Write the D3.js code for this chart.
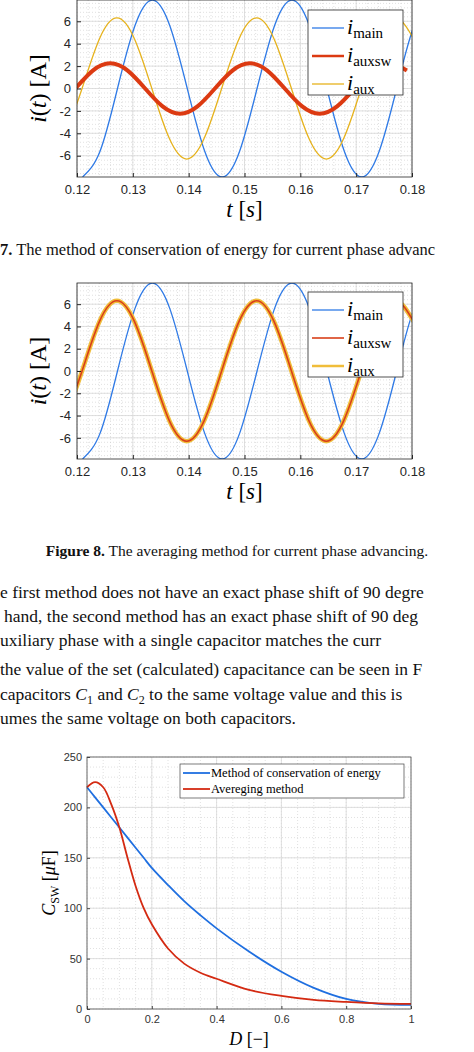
<!DOCTYPE html>
<html><head><meta charset="utf-8">
<script src="https://cdn.jsdelivr.net/npm/d3@7"></script>
<style>body{margin:0;background:#fff}svg{display:block}</style>
</head><body><svg id="s" width="474" height="1052"></svg>
<script>
// ---- data ----
const step = 0.003125;
const mainVals = [-7.9,-5.6,0,5.6,7.9,5.6,0,-5.6,-7.9,-5.6,0,5.6,7.9,5.6,0,-5.6,-7.9,-5.6,0,5.6,7.9];
const mainStart = 0.1210;
const auxVals = [-4.45,0,4.45,6.3,4.45,0,-4.45,-6.3,-4.45,0,4.45,6.3,4.45,0,-4.45,-6.3,-4.45,0,4.45,6.3,4.45];
const auxStart = 0.11778;
const auxswVals1 = [-1.6,0,1.6,2.25,1.6,0,-1.6,-2.25,-1.6,0,1.6,2.25,1.6,0,-1.6,-2.25,-1.6,0,1.6,2.25,1.6];
const auxswStart1 = 0.11658;
const auxswVals2 = auxVals;
const auxswStart2 = auxStart;
const xTicks1 = [0.12,0.13,0.14,0.15,0.16,0.17,0.18];
const yTicks1 = [-6,-4,-2,0,2,4,6];

const D = [0,0.025,0.05,0.075,0.1,0.125,0.15,0.175,0.2,0.25,0.3,0.35,0.4,0.5,0.6,0.7,0.8,0.9,1];
const energy = [220,210,200,190,180,170,160,150,140,123,107,93,80,57,37,21,10,5,4];
const averaging = [220,225,220,203,180,150,122,100,84,60,45,36,30,19,13,9,7,5.5,5];
const xTicks3 = [0,0.2,0.4,0.6,0.8,1];
const yTicks3 = [0,50,100,150,200,250];

const svg = d3.select('#s');
const sans = 'Liberation Sans, Arial, sans-serif';
const serif = 'Liberation Serif, DejaVu Serif, serif';
let clipId = 0;

function grid(g, x, y, xMinor, yMinor, xMajor, yMajor, w, h) {
  xMinor.forEach(v => g.append('line').attr('x1',x(v)).attr('x2',x(v)).attr('y1',0).attr('y2',h).attr('stroke','#ccc').attr('stroke-width',0.6).attr('stroke-dasharray','1,2'));
  yMinor.forEach(v => g.append('line').attr('y1',y(v)).attr('y2',y(v)).attr('x1',0).attr('x2',w).attr('stroke','#ccc').attr('stroke-width',0.6).attr('stroke-dasharray','1,2'));
  xMajor.forEach(v => g.append('line').attr('x1',x(v)).attr('x2',x(v)).attr('y1',0).attr('y2',h).attr('stroke','#d8d8d8').attr('stroke-width',0.8));
  yMajor.forEach(v => g.append('line').attr('y1',y(v)).attr('y2',y(v)).attr('x1',0).attr('x2',w).attr('stroke','#d8d8d8').attr('stroke-width',0.8));
}

function sineChart(top, bottom, series, legendTop) {
  const L = 77, R = 412, w = R-L, h = bottom-top;
  const x = d3.scaleLinear().domain([0.12,0.18]).range([0,w]);
  const y = d3.scaleLinear().domain([-7.9,7.9]).range([h,0]);
  const g = svg.append('g').attr('transform',`translate(${L},${top})`);
  g.append('rect').attr('width',w).attr('height',h).attr('fill','#fff');
  grid(g,x,y,d3.range(0.12,0.1801,0.002),d3.range(-7.6,7.9,0.4),xTicks1,yTicks1,w,h);
  const id='c'+(clipId++);
  g.append('clipPath').attr('id',id).append('rect').attr('width',w).attr('height',h);
  const pg = g.append('g').attr('clip-path',`url(#${id})`);
  series.forEach(s => {
    const pts = s.vals.map((v,i)=>[s.start+i*step, v]);
    pg.append('path').attr('d', d3.line().x(d=>x(d[0])).y(d=>y(d[1])).curve(d3.curveNatural)(pts))
      .attr('fill','none').attr('stroke',s.color).attr('stroke-width',s.width);
  });
  g.append('rect').attr('width',w).attr('height',h).attr('fill','none').attr('stroke','#262626').attr('stroke-width',0.8);
  const xa = g.append('g').attr('transform',`translate(0,${h})`).call(d3.axisBottom(x).tickValues(xTicks1).tickSize(-4).tickFormat(d3.format('.2f')).tickPadding(8));
  const ya = g.append('g').call(d3.axisLeft(y).tickValues(yTicks1).tickSize(-4).tickFormat(d=>String(d)).tickPadding(6));
  [xa,ya].forEach(a=>{a.select('.domain').remove();a.selectAll('text').attr('font-family',sans).attr('font-size',13).attr('fill','#262626');a.selectAll('line').attr('stroke','#262626');});
  g.append('text').attr('x',w/2).attr('y',h+40).attr('text-anchor','middle').attr('font-family',serif).attr('font-size',23)
    .html('<tspan font-style="italic">t</tspan> [<tspan font-style="italic">s</tspan>]');
  g.append('text').attr('transform',`translate(-31,${h/2}) rotate(-90)`).attr('text-anchor','middle').attr('font-family',serif).attr('font-size',24)
    .html('<tspan font-style="italic">i</tspan>(<tspan font-style="italic">t</tspan>) [A]');
  const lg = svg.append('g').attr('transform',`translate(308,${legendTop})`);
  lg.append('rect').attr('width',95).attr('height',85).attr('fill','#fff').attr('stroke','#262626').attr('stroke-width',0.8);
  series.slice().sort((a,b)=>a.order-b.order).forEach((s,i)=>{
    const yy = 18 + i*28;
    lg.append('line').attr('x1',4).attr('x2',36).attr('y1',yy).attr('y2',yy).attr('stroke',s.color).attr('stroke-width',Math.min(s.width,2.5));
    lg.append('text').attr('x',39).attr('y',yy+6).attr('font-family',serif).attr('font-size',22)
      .html(`<tspan font-style="italic">i</tspan><tspan font-size="15" dy="4">${s.name}</tspan>`);
  });
}

sineChart(0,177,[
  {name:'main',vals:mainVals,start:mainStart,color:'#2f7ae6',width:1.3,order:0},
  {name:'aux',vals:auxVals,start:auxStart,color:'#e6b21c',width:1.3,order:2},
  {name:'auxsw',vals:auxswVals1,start:auxswStart1,color:'#dc3a12',width:4,order:1}
],10);
sineChart(283,459,[
  {name:'main',vals:mainVals,start:mainStart,color:'#2f7ae6',width:1.3,order:0},
  {name:'aux',vals:auxVals,start:auxStart,color:'#f0bd3a',width:4.5,order:2},
  {name:'auxsw',vals:auxswVals2,start:auxswStart2,color:'#d9401a',width:1.6,order:1}
],292);

function txt(x,y,html,opt={}) {
  svg.append('text').attr('x',x).attr('y',y).attr('font-family',serif).attr('font-size',opt.size||17.5)
    .attr('text-anchor',opt.anchor||'start').attr('fill','#111').html(html);
}
txt(0,255,'<tspan font-weight="bold">7.</tspan> The method of conservation of energy for current phase advanc',{size:16.5});
txt(237,556,'<tspan font-weight="bold">Figure 8.</tspan> The averaging method for current phase advancing.',{size:15.5,anchor:'middle'});
txt(0,598,'e first method does not have an exact phase shift of 90 degre');
txt(4,622,'hand, the second method has an exact phase shift of 90 deg');
txt(0,646,'uxiliary phase with a single capacitor matches the curr');
txt(0,675,'the value of the set (calculated) capacitance can be seen in F');
txt(0,700,'capacitors <tspan font-style="italic">C</tspan><tspan font-size="12" dy="4">1</tspan><tspan dy="-4"> and </tspan><tspan font-style="italic">C</tspan><tspan font-size="12" dy="4">2</tspan><tspan dy="-4"> to the same voltage value and this is</tspan>');
txt(0,724,'umes the same voltage on both capacitors.');

(function(){
  const L=87,R=411,T=757,B=1009,w=R-L,h=B-T;
  const x=d3.scaleLinear().domain([0,1]).range([0,w]);
  const y=d3.scaleLinear().domain([0,250]).range([h,0]);
  const g=svg.append('g').attr('transform',`translate(${L},${T})`);
  grid(g,x,y,d3.range(0,1.001,0.05),d3.range(0,250.1,10),xTicks3,yTicks3,w,h);
  const line=d3.line().x((d,i)=>x(D[i])).y(d=>y(d)).curve(d3.curveCatmullRom.alpha(0.5));
  g.append('path').attr('d',line(energy)).attr('fill','none').attr('stroke','#1f6fe0').attr('stroke-width',1.8);
  g.append('path').attr('d',line(averaging)).attr('fill','none').attr('stroke','#d42a12').attr('stroke-width',1.8);
  g.append('rect').attr('width',w).attr('height',h).attr('fill','none').attr('stroke','#444').attr('stroke-width',0.7);
  const xa=g.append('g').attr('transform',`translate(0,${h})`).call(d3.axisBottom(x).tickValues(xTicks3).tickSize(-3).tickFormat(d=>d===0||d===1?d:d3.format('.1f')(d)).tickPadding(6));
  const ya=g.append('g').call(d3.axisLeft(y).tickValues(yTicks3).tickSize(-3).tickPadding(5));
  [xa,ya].forEach(a=>{a.select('.domain').remove();a.selectAll('text').attr('font-family',sans).attr('font-size',11).attr('fill','#333');a.selectAll('line').attr('stroke','#444');});
  g.append('text').attr('x',w/2).attr('y',h+36).attr('text-anchor','middle').attr('font-family',serif).attr('font-size',18)
    .html('<tspan font-style="italic">D</tspan> [−]');
  g.append('text').attr('transform',`translate(-32,${h/2}) rotate(-90)`).attr('text-anchor','middle').attr('font-family',serif).attr('font-size',18)
    .html('<tspan font-style="italic">C</tspan><tspan font-size="12" dy="4">SW</tspan><tspan dy="-4"> [</tspan><tspan font-style="italic">μ</tspan>F]');
  const lg=svg.append('g').attr('transform','translate(180,764)');
  lg.append('rect').attr('width',224).attr('height',34).attr('fill','#fff').attr('stroke','#444').attr('stroke-width',0.7);
  [['Method of conservation of energy','#1f6fe0'],['Avereging method','#d42a12']].forEach((e,i)=>{
    const yy=9+i*16;
    lg.append('line').attr('x1',3).attr('x2',30).attr('y1',yy).attr('y2',yy).attr('stroke',e[1]).attr('stroke-width',1.8);
    lg.append('text').attr('x',31).attr('y',yy+4).attr('font-family',serif).attr('font-size',12.5).text(e[0]);
  });
})();
</script></body></html>
